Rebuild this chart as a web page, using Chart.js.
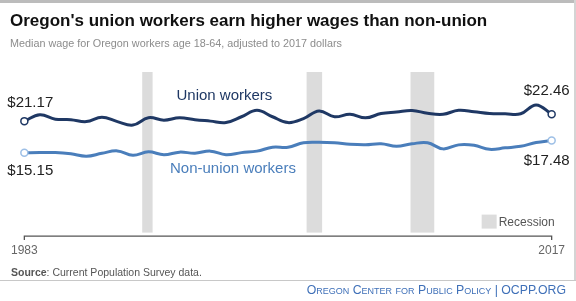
<!DOCTYPE html>
<html>
<head>
<meta charset="utf-8">
<script src="https://cdn.jsdelivr.net/npm/chart.js@4/dist/chart.umd.min.js"></script>
<style>
  body { margin: 0; background: #fff; font-family: "Liberation Sans", Arial, sans-serif; }
  #wrap { position: relative; width: 576px; height: 301px; overflow: hidden; }
  #topbar { position: absolute; left: 0; top: 0; width: 576px; height: 3px; background: #bcbcbc; }
  #rightbar { position: absolute; right: 0; top: 0; width: 2px; height: 281px; background: #d4d4d4; }
  #title { position: absolute; left: 10px; top: 12px; line-height: 18px; font-size: 17px; font-weight: bold; color: #111; white-space: nowrap; }
  #subtitle { position: absolute; left: 10px; top: 37px; line-height: 13px; font-size: 10.8px; color: #8c8c8c; white-space: nowrap; }
  #source { position: absolute; left: 11px; top: 266px; line-height: 12px; font-size: 10.5px; color: #555; white-space: nowrap; }
  #rule { position: absolute; left: 0; top: 280px; width: 576px; height: 1px; background: #c8c8c8; }
  #footer { position: absolute; right: 10px; top: 283px; line-height: 15px; font-size: 12.3px; color: #3f70b8; font-variant: small-caps; white-space: nowrap; }
  canvas { position: absolute; left: 0; top: 0; }
</style>
</head>
<body>
<div id="wrap">
  <canvas id="grafico" width="576" height="301"></canvas>
  <div id="topbar"></div>
  <div id="rightbar"></div>
  <div id="title">Oregon's union workers earn higher wages than non-union</div>
  <div id="subtitle">Median wage for Oregon workers age 18-64, adjusted to 2017 dollars</div>
  <div id="source"><b>Source</b>: Current Population Survey data.</div>
  <div id="rule"></div>
  <div id="footer">Oregon Center for Public Policy | OCPP.ORG</div>
</div>
<script>
const anios = [1983, 1984, 1985, 1986, 1987, 1988, 1989, 1990, 1991, 1992, 1993, 1994,
    1995, 1996, 1997, 1998, 1999, 2000, 2001, 2002, 2003, 2004, 2005, 2006, 2007,
    2008, 2009, 2010, 2011, 2012, 2013, 2014, 2015, 2016, 2017];

const sindicato = [21.17, 22.38, 21.54, 21.45, 21.08, 21.92, 21.08, 20.42, 21.82, 21.36,
    21.82, 21.45, 21.17, 20.89, 22.0, 23.23, 22.0, 20.89, 21.64, 23.1, 22.0, 22.48,
    21.79, 22.6, 22.9, 23.2, 22.67, 22.48, 23.23, 22.95, 22.61, 22.57, 22.57, 24.25, 22.46];

const noSindicato = [15.15, 15.2, 15.2, 14.96, 14.5, 15.06, 15.52, 14.68, 15.34, 14.8,
    15.28, 15.09, 15.47, 14.8, 15.19, 15.47, 16.22, 16.22, 17.06, 17.15, 17.06, 16.78,
    16.69, 16.87, 16.4, 16.87, 17.06, 15.9, 16.66, 16.57, 15.81, 16.1, 16.38, 17.1, 17.48];

// recesiones: [inicio, fin] en años decimales
const recesiones = [[1990.6, 1991.27], [2001.2, 2002.2], [2007.9, 2009.43]];

const etiquetaX = [1983, 2017];

const colorUnion = '#1f3864';
const colorNoUnion = '#4a7ebb';
const colorRecesion = '#dcdcdc';

function serie(valores) {
    return valores.map((v, i) => ({ x: anios[i], y: v }));
}

function radioExtremos(ctx) {
    const n = ctx.dataset.data.length;
    return (ctx.dataIndex === 0 || ctx.dataIndex === n - 1) ? 3.5 : 0;
}

const extras = {
    id: 'extras',
    beforeDatasetsDraw(chart) {
        const { ctx, chartArea, scales } = chart;
        ctx.save();
        ctx.fillStyle = colorRecesion;
        recesiones.forEach(r => {
            const x1 = scales.x.getPixelForValue(r[0]);
            const x2 = scales.x.getPixelForValue(r[1]);
            ctx.fillRect(x1, chartArea.top, x2 - x1, chartArea.bottom - chartArea.top);
        });
        ctx.restore();
    },
    afterDraw(chart) {
        const { ctx, chartArea, scales } = chart;
        const sx = scales.x, sy = scales.y;
        ctx.save();
        // eje
        const ya = chartArea.bottom + 3.5;
        ctx.strokeStyle = '#555';
        ctx.lineWidth = 1.3;
        ctx.beginPath();
        ctx.moveTo(chartArea.left, ya + 4);
        ctx.lineTo(chartArea.left, ya);
        ctx.lineTo(chartArea.right, ya);
        ctx.lineTo(chartArea.right, ya + 4);
        ctx.stroke();

        // leyenda recesion
        ctx.fillStyle = colorRecesion;
        ctx.fillRect(chartArea.right - 70, chartArea.bottom - 18, 15, 14);
        ctx.fillStyle = '#555';
        ctx.font = '12px "Liberation Sans", Arial, sans-serif';
        ctx.textBaseline = 'middle';
        ctx.textAlign = 'left';
        ctx.fillText('Recession', chartArea.right - 53, chartArea.bottom - 9.5);

        // valores extremos
        const n = anios.length - 1;
        ctx.font = '15px "Liberation Sans", Arial, sans-serif';
        ctx.fillStyle = '#222';
        const x0 = sx.getPixelForValue(anios[0]);
        const xn = sx.getPixelForValue(anios[n]);
        ctx.textAlign = 'left';
        ctx.fillText('$' + sindicato[0].toFixed(2), x0 - 17, sy.getPixelForValue(sindicato[0]) - 18);
        ctx.fillText('$' + noSindicato[0].toFixed(2), x0 - 17, sy.getPixelForValue(noSindicato[0]) + 18);
        ctx.textAlign = 'right';
        ctx.fillText('$' + sindicato[n].toFixed(2), xn + 18, sy.getPixelForValue(sindicato[n]) - 23);
        ctx.fillText('$' + noSindicato[n].toFixed(2), xn + 18, sy.getPixelForValue(noSindicato[n]) + 20);

        // nombres de series
        ctx.textAlign = 'center';
        ctx.fillStyle = colorUnion;
        ctx.fillText('Union workers', sx.getPixelForValue(1995.9), sy.getPixelForValue(26));
        ctx.fillStyle = colorNoUnion;
        ctx.fillText('Non-union workers', sx.getPixelForValue(1996.45), sy.getPixelForValue(12.2));
        ctx.restore();
    }
};

new Chart(document.getElementById('grafico'), {
    type: 'line',
    data: {
        datasets: [{
            label: 'Union workers',
            data: serie(sindicato),
            borderColor: colorUnion,
            borderWidth: 3,
            tension: 0.4,
            clip: false,
            pointRadius: radioExtremos,
            pointBackgroundColor: '#fff',
            pointBorderColor: colorUnion,
            pointBorderWidth: 1.5
        }, {
            label: 'Non-union workers',
            data: serie(noSindicato),
            borderColor: colorNoUnion,
            borderWidth: 3,
            tension: 0.4,
            clip: false,
            pointRadius: radioExtremos,
            pointBackgroundColor: '#fff',
            pointBorderColor: '#9dbfe6',
            pointBorderWidth: 1.5
        }]
    },
    options: {
        responsive: false,
        animation: false,
        layout: { padding: { left: 24, right: 22, top: 72, bottom: 32 } },
        plugins: { legend: { display: false }, tooltip: { enabled: false } },
        scales: {
            x: {
                type: 'linear',
                min: 1983,
                max: 2017,
                afterBuildTicks: axis => { axis.ticks = etiquetaX.map(v => ({ value: v })); },
                grid: { display: false, drawTicks: false },
                border: { display: false },
                ticks: {
                    color: '#666',
                    padding: 11,
                    maxRotation: 0,
                    font: { family: '"Liberation Sans", Arial, sans-serif', size: 12 },
                    callback: v => String(v)
                }
            },
            y: {
                display: false,
                min: 0,
                max: 30.5
            }
        }
    },
    plugins: [extras]
});
</script>
</body>
</html>
